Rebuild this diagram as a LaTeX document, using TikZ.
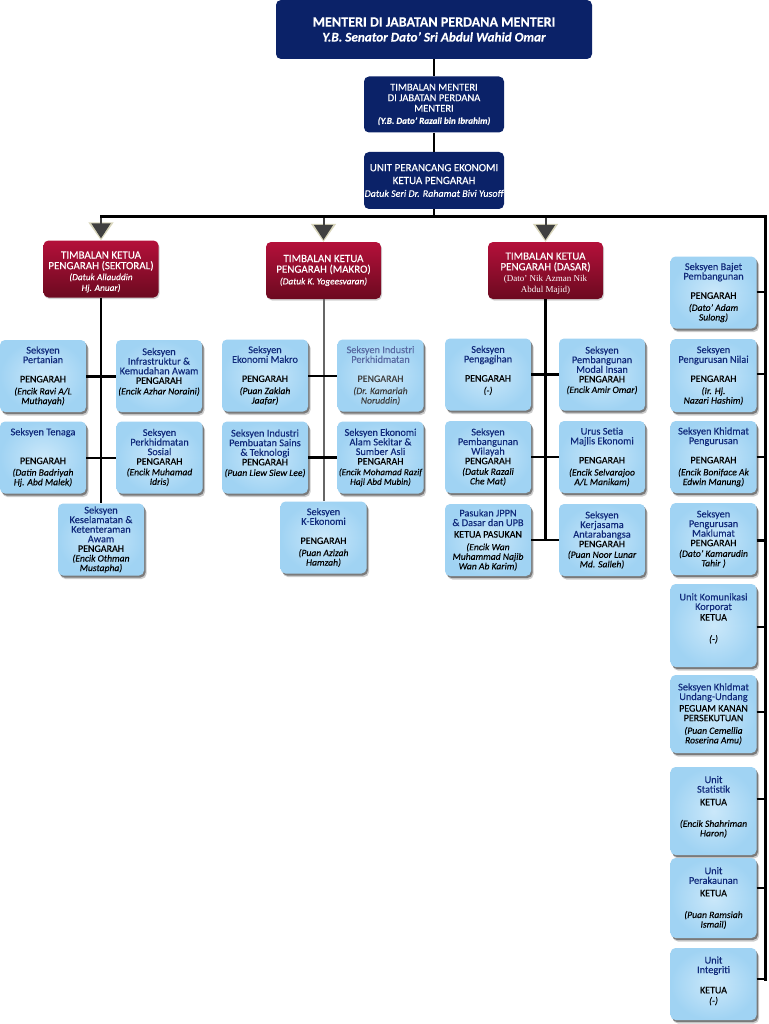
\documentclass[tikz,border=0pt]{standalone}
\usepackage{fontspec}
\setmainfont{Carlito}[FakeBold=0.25]
\newfontfamily\serifnama{Liberation Serif}
\usetikzlibrary{arrows.meta,shadows}
\definecolor{birugelap}{HTML}{0B2268}
\definecolor{birutulis}{HTML}{10297A}
\definecolor{merahatas}{HTML}{B4103A}
\definecolor{merahbawah}{HTML}{6C0A20}
\definecolor{kotakdalam}{HTML}{CBE8FA}
\definecolor{kotakluar}{HTML}{A0D3F3}
\definecolor{kabur}{HTML}{D9D6BC}
\tikzset{
	menteribox/.style={fill=birugelap, rounded corners=5pt, text=white, align=center, inner sep=0pt},
	merahbox/.style={top color=merahatas, bottom color=merahbawah, rounded corners=5pt, text=white, align=flush center, inner sep=0pt,
		text width=115pt, minimum height=57pt, font=\fontsize{11}{10.7}\selectfont,
		drop shadow={shadow xshift=1pt, shadow yshift=-1.5pt, opacity=0.35}},
	seksyenbox/.style={inner color=kotakdalam, outer color=kotakluar, rounded corners=5pt, align=flush center, inner sep=0pt,
		text width=86pt, minimum height=72pt, font=\fontsize{10}{9.6}\selectfont,
		general shadow={shadow xshift=2.5pt, shadow yshift=-3.5pt, opacity=0.2, fill=black},
		general shadow={shadow xshift=1.5pt, shadow yshift=-2pt, opacity=0.4, fill=black}},
	garis/.style={line width=2pt, color=black},
	tebal/.style={line width=3pt, color=black},
	panah/.style={line width=2pt, color=black!75, -{Triangle[length=15pt, width=19pt]}, shorten >=2pt},
	cahaya/.style={line width=2pt, color=kabur, -{Triangle[length=18pt, width=25pt]}},
}
\def\bhg#1{{\color{birutulis}\fontsize{10.3}{9.6}\selectfont #1}}
\def\nama#1{{\itshape\fontsize{9.6}{9.6}\selectfont #1}}
\def\cabang[#1](#2)(#3){\draw[#1] (#2.east |- 0,#3) -- (busbawah |- 0,#3);}

\begin{document}
\begin{tikzpicture}[x=1pt, y=-1pt]
			%%%%% START %%%%%
			\useasboundingbox (0, 0) rectangle (768, 1024);
			
			\node[menteribox, minimum width=316pt, minimum height=59pt] (menteri) at (434, 29.5) {{\bfseries\fontsize{14.1}{18}\selectfont MENTERI DI JABATAN PERDANA MENTERI}\\[3pt]{\bfseries\itshape\fontsize{13.2}{18}\selectfont Y.B. Senator Dato’ Sri Abdul Wahid Omar}};
			\node[menteribox, minimum width=140pt, minimum height=56pt, font=\fontsize{10.5}{10.6}\selectfont] (timbalan) at (434, 104.5) {TIMBALAN MENTERI\\DI JABATAN PERDANA\\MENTERI\\[1.5pt]{\bfseries\itshape\fontsize{9.1}{10}\selectfont (Y.B. Dato’ Razali bin Ibrahim)}};
			\node[menteribox, minimum width=140pt, minimum height=57pt, font=\fontsize{11}{12.8}\selectfont] (perancang) at (434, 180.5) {UNIT PERANCANG EKONOMI\\KETUA PENGARAH\\{\itshape\fontsize{10}{12.8}\selectfont Datuk Seri Dr. Rahamat Bivi Yusoff}};
			
			\node[merahbox] (sektoral) at (101, 269) {\rule{0pt}{13pt}TIMBALAN KETUA\\PENGARAH (SEKTORAL)\\[1pt]{\itshape\fontsize{9.3}{10}\selectfont (Datuk Allauddin\\Hj. Anuar)}};
			\node[merahbox] (makro) at (323.5, 270.5) {TIMBALAN KETUA\\PENGARAH (MAKRO)\\[1pt]{\itshape\fontsize{9.3}{10}\selectfont (Datuk K. Yogeesvaran)}};
			\node[merahbox] (dasar) at (545.5, 270.5) {\rule{0pt}{13pt}TIMBALAN KETUA\\PENGARAH (DASAR)\\[1pt]{\serifnama\fontsize{9}{10.5}\selectfont (Dato’ Nik Azman Nik\\Abdul Majid)}};
			
			% sektoral
			\node[seksyenbox] (pertanian) at (43, 376) {\bhg{Seksyen\\Pertanian}\\[9.6pt]PENGARAH\\[2.5pt]\nama{(Encik Ravi A/L\\Muthayah)}};
			\node[seksyenbox] (infrastruktur) at (159, 376) {\bhg{Seksyen\\Infrastruktur \&\\Kemudahan Awam}\\PENGARAH\\[1pt]\nama{(Encik Azhar Noraini)}\\~};
			\node[seksyenbox] (tenaga) at (43, 457.5) {\bhg{Seksyen Tenaga}\\[9.6pt]~\\PENGARAH\\[2pt]\nama{(Datin Badriyah\\Hj. Abd Malek)}};
			\node[seksyenbox] (perkhidmatan) at (159.5, 457.5) {\bhg{Seksyen\\Perkhidmatan\\Sosial}\\PENGARAH\\[1pt]\nama{(Encik Muhamad\\Idris)}};
			\node[seksyenbox] (keselamatan) at (101, 539.5) {\bhg{Seksyen\\Keselamatan \&\\Ketenteraman\\Awam}\\PENGARAH\\\nama{(Encik Othman\\Mustapha)}};
			
			% makro
			\node[seksyenbox] (ekonomimakro) at (265, 375.5) {\bhg{Seksyen\\Ekonomi Makro}\\[9.6pt]PENGARAH\\[2.5pt]\nama{(Puan Zakiah\\Jaafar)}};
			\node[seksyenbox, text=black!75] (industriperkhidmatan) at (380.5, 375.5) {{\color{birutulis!70}\fontsize{10.3}{9.6}\selectfont Seksyen Industri\\Perkhidmatan}\\[9.6pt]PENGARAH\\[2.5pt]\nama{(Dr. Kamariah\\Noruddin)}};
			\node[seksyenbox] (pembuatan) at (265, 457.5) {\bhg{Seksyen Industri\\Pembuatan Sains\\\& Teknologi}\\PENGARAH\\[1pt]\nama{(Puan Liew Siew Lee)}\\~};
			\node[seksyenbox] (alamsekitar) at (380.5, 457.5) {\bhg{Seksyen Ekonomi\\Alam Sekitar \&\\Sumber Asli}\\PENGARAH\\[1pt]{\itshape\fontsize{9.2}{9.6}\selectfont (Encik Mohamad Razif\\Haji Abd Mubin)}};
			\node[seksyenbox] (kekonomi) at (323.5, 537.5) {\bhg{Seksyen\\K-Ekonomi}\\[9.6pt]PENGARAH\\[2.5pt]\nama{(Puan Azizah\\Hamzah)}};
			
			% dasar
			\node[seksyenbox] (pengagihan) at (488, 374.5) {\bhg{Seksyen\\Pengagihan}\\[9.6pt]PENGARAH\\[2.5pt]\nama{(-)}\\~};
			\node[seksyenbox] (modalinsan) at (602, 374.5) {\bhg{Seksyen\\Pembangunan\\Modal Insan}\\PENGARAH\\[1pt]\nama{(Encik Amir Omar)}\\~};
			\node[seksyenbox] (wilayah) at (488, 457) {\bhg{Seksyen\\Pembangunan\\Wilayah}\\PENGARAH\\[1pt]\nama{(Datuk Razali\\Che Mat)}};
			\node[seksyenbox] (urussetia) at (602, 457) {\bhg{Urus Setia\\Majlis Ekonomi}\\[9.6pt]PENGARAH\\[2.5pt]\nama{(Encik Selvarajoo\\A/L Manikam)}};
			\node[seksyenbox] (pasukan) at (488, 540) {\bhg{Pasukan JPPN\\\& Dasar dan UPB}\\[2pt]KETUA PASUKAN\\[3pt]\nama{(Encik Wan\\Muhammad Najib\\Wan Ab Karim)}};
			\node[seksyenbox] (kerjasama) at (602, 540) {\bhg{Seksyen\\Kerjasama\\Antarabangsa}\\PENGARAH\\[1pt]\nama{(Puan Noor Lunar\\Md. Salleh)}};
			
			% kanan
			\node[seksyenbox] (bajet) at (713.5, 292.5) {\bhg{Seksyen Bajet\\Pembangunan}\\[9.6pt]PENGARAH\\[2.5pt]\nama{(Dato’ Adam\\Sulong)}};
			\node[seksyenbox, minimum height=73pt] (nilai) at (713.5, 375.5) {\bhg{Seksyen\\Pengurusan Nilai}\\[9.6pt]PENGARAH\\[2.5pt]\nama{(Ir. Hj.\\Nazari Hashim)}};
			\node[seksyenbox] (khidmat) at (713.5, 457) {\bhg{Seksyen Khidmat\\Pengurusan}\\[9.6pt]PENGARAH\\[2.5pt]\nama{(Encik Boniface Ak\\Edwin Manung)}};
			\node[seksyenbox] (maklumat) at (713.5, 539) {\bhg{Seksyen\\Pengurusan\\Maklumat}\\PENGARAH\\[1pt]\nama{(Dato’ Kamarudin\\Tahir )}};
			\node[seksyenbox, minimum height=83pt] (komunikasi) at (713.5, 625.5) {\bhg{Unit Komunikasi\\Korporat}\\[1pt]KETUA\\[12pt]\nama{(-)}\\[6pt]~};
			\node[seksyenbox, minimum height=78pt] (undang) at (713.5, 714) {\bhg{Seksyen Khidmat\\Undang-Undang}\\[2pt]PEGUAM KANAN\\PERSEKUTUAN\\[3pt]\nama{(Puan Cemellia\\Roserina Amu)}};
			\node[seksyenbox, minimum height=88pt] (statistik) at (713.5, 811) {\bhg{Unit\\Statistik}\\[3pt]KETUA\\[12pt]\nama{(Encik Shahriman\\Haron)}\\~};
			\node[seksyenbox, minimum height=80pt] (perakaunan) at (713.5, 898) {\bhg{Unit\\Perakaunan}\\[3pt]KETUA\\[12pt]\nama{(Puan Ramsiah\\Ismail)}};
			\node[seksyenbox] (integriti) at (713.5, 984) {\bhg{Unit\\Integriti}\\[10.6pt]KETUA\\[1pt]\nama{(-)}\\[-2pt]~};
			
			\coordinate (buskiri) at (100, 217);
			\coordinate (buskanan) at (765.5, 217);
			\coordinate (busbawah) at (765.5, 981);
			
			\draw[garis] (menteri) -- (timbalan);
			\draw[garis] (timbalan) -- (perancang);
			\draw[garis] (perancang) -- (perancang |- buskanan);
			\draw[cahaya] (sektoral.north |- 0,223) -- (sektoral.north);
			\draw[cahaya] (makro.north |- 0,223) -- (makro.north);
			\draw[cahaya] (dasar.north |- 0,223) -- (dasar.north);
			\draw[panah] (sektoral.north |- buskiri) -- (sektoral.north);
			\draw[panah] (makro.north |- buskiri) -- (makro.north);
			\draw[panah] (dasar.north |- buskiri) -- (dasar.north);
			\draw[tebal, line join=miter] (buskiri) -- (buskanan) -- (busbawah);
			
			\draw[garis] (sektoral) -- (keselamatan);
			\draw[tebal] (pertanian) -- (infrastruktur);
			\draw[garis] (tenaga) -- (perkhidmatan);
			
			\draw[garis, color=black!60] (makro) -- (kekonomi);
			\draw[garis] (ekonomimakro) -- (industriperkhidmatan);
			\draw[tebal] (pembuatan) -- (alamsekitar);
			
			\draw[tebal] (dasar) -- (dasar |- pasukan);
			\draw[tebal] (pengagihan) -- (modalinsan);
			\draw[garis] (wilayah) -- (urussetia);
			\draw[garis] (pasukan) -- (kerjasama);
			
			\cabang[garis](bajet)(292);
			\cabang[garis](nilai)(374);
			\cabang[garis](khidmat)(457);
			\cabang[tebal](maklumat)(540);
			\cabang[garis](komunikasi)(627);
			\cabang[garis](undang)(712);
			\cabang[garis](statistik)(799);
			\cabang[garis](perakaunan)(888);
			\cabang[garis](integriti)(979);
			
			%%%%% END %%%%%
		\end{tikzpicture}
\end{document}
